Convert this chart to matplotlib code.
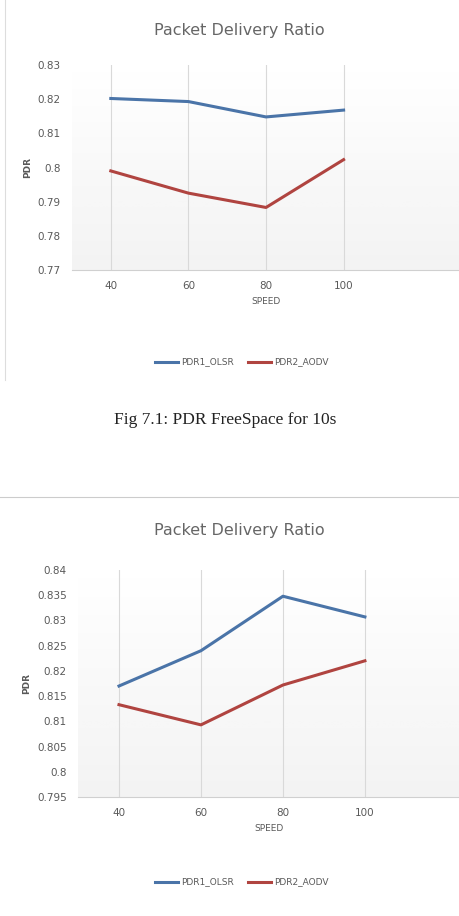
import numpy as np
import matplotlib.pyplot as plt

speed = ["40", "60", "80", "100"]
olsr_1 = [0.8202, 0.8193, 0.8148, 0.8168]
aodv_1 = [0.7990, 0.7925, 0.7883, 0.8023]
olsr_2 = [0.8170, 0.8240, 0.8348, 0.8307]
aodv_2 = [0.8133, 0.8093, 0.8172, 0.8220]

blue = "#4a74a8"
red = "#b04440"
grey = "#595959"

fig = plt.figure(figsize=(4.6, 9.16), dpi=100)


def panel(rect, olsr, aodv, ylim, ticks, labels, xmax):
    ax = fig.add_axes(rect)
    # white at the top fading to pale grey at the bottom
    grad = np.linspace(0, 1, 100).reshape(-1, 1)
    ax.imshow(grad, extent=[0, 1, 0, 1], transform=ax.transAxes, aspect="auto",
              cmap="Greys", vmin=0, vmax=10, origin="upper", zorder=0)
    x = np.arange(len(speed))
    for xi in x:
        ax.axvline(xi, color="#d9d9d9", lw=0.8, zorder=1)
    ax.plot(x, olsr, color=blue, lw=2.2, zorder=3)
    ax.plot(x, aodv, color=red, lw=2.2, zorder=3)
    ax.set_xlim(-0.5, xmax)
    ax.set_ylim(*ylim)
    ax.set_xticks(x, speed)
    ax.set_yticks(ticks, labels)
    for s in ["top", "right", "left"]:
        ax.spines[s].set_visible(False)
    ax.spines["bottom"].set_color("#d0d0d0")
    ax.tick_params(length=0, colors=grey, labelsize=7.5, pad=8)
    ax.set_xlabel("SPEED", color=grey, fontsize=6.5)
    ax.set_ylabel("PDR", color=grey, fontsize=6.5, fontweight="bold")
    return ax


panel([72 / 460, 1 - 270 / 916, 388 / 460, 205 / 916], olsr_1, aodv_1,
      (0.77, 0.83), [0.77, 0.78, 0.79, 0.80, 0.81, 0.82, 0.83],
      ["0.77", "0.78", "0.79", "0.8", "0.81", "0.82", "0.83"], 4.5)
panel([78 / 460, 1 - 797 / 916, 382 / 460, 227 / 916], olsr_2, aodv_2,
      (0.795, 0.84), [0.795, 0.8, 0.805, 0.81, 0.815, 0.82, 0.825, 0.83, 0.835, 0.84],
      ["0.795", "0.8", "0.805", "0.81", "0.815", "0.82", "0.825", "0.83", "0.835", "0.84"], 4.16)

fig.text(0.52, 1 - 30 / 916, "Packet Delivery Ratio", ha="center", va="center",
         fontsize=11.5, color="#666666")
fig.text(0.52, 1 - 530 / 916, "Packet Delivery Ratio", ha="center", va="center",
         fontsize=11.5, color="#666666")
fig.text(0.49, 1 - 420 / 916, "Fig 7.1: PDR FreeSpace for 10s", ha="center", va="center",
         fontsize=12.5, family="Liberation Serif", color="#222222")

# legends
for yy in [362, 882]:
    y = 1 - yy / 916
    fig.add_artist(plt.Line2D([155 / 460, 178 / 460], [y, y], color=blue, lw=2.2))
    fig.text(181 / 460, y, "PDR1_OLSR", va="center", fontsize=6.5, color=grey)
    fig.add_artist(plt.Line2D([248 / 460, 271 / 460], [y, y], color=red, lw=2.2))
    fig.text(274 / 460, y, "PDR2_AODV", va="center", fontsize=6.5, color=grey)

fig.add_artist(plt.Line2D([0, 1], [1 - 497 / 916] * 2, color="#cccccc", lw=0.8))
fig.add_artist(plt.Line2D([5 / 460] * 2, [1 - 380 / 916, 1], color="#dddddd", lw=0.8))

fig.savefig("out.png", dpi=100)
